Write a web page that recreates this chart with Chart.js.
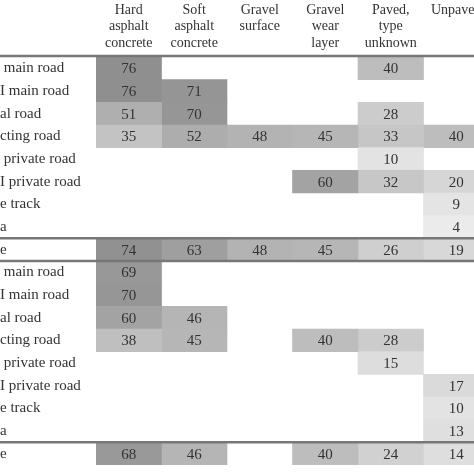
<!DOCTYPE html>
<html><head><meta charset="utf-8">
<script src="https://cdn.jsdelivr.net/npm/chart.js@4"></script>
<style>html,body{margin:0;background:#fff;overflow:hidden}#wrap{width:474px;height:474px}</style>
</head><body><div id="wrap"><canvas id="c"></canvas></div>
<script>
const rowLabels = [' main road','I main road','al road','cting road',' private road','I private road','e track','a','e',
  ' main road','I main road','al road','cting road',' private road','I private road','e track','a','e'];
const columnLabels = [['Hard','asphalt','concrete'],['Soft','asphalt','concrete'],['Gravel','surface'],['Gravel','wear','layer'],['Paved,','type','unknown'],['Unpaved']];
const hardAsphalt = [76,76,51,35,null,null,null,null,74, 69,70,60,38,null,null,null,null,68];
const softAsphalt = [null,71,70,52,null,null,null,null,63, null,null,46,45,null,null,null,null,46];
const gravelSurface = [null,null,null,48,null,null,null,null,48, null,null,null,null,null,null,null,null,null];
const gravelWear = [null,null,null,45,null,60,null,null,45, null,null,null,40,null,null,null,null,40];
const pavedUnknown = [40,null,28,33,10,32,null,null,26, null,null,null,28,15,null,null,null,24];
const unpaved = [null,null,null,40,null,20,9,4,19, null,null,null,null,null,17,10,13,14];
const columns = [hardAsphalt, softAsphalt, gravelSurface, gravelWear, pavedUnknown, unpaved];

const shade = v => { const g = Math.round(240 - 1.28*v); return `rgb(${g},${g},${g})`; };
const SERIF = '"Liberation Serif", "DejaVu Serif", serif';

const datasets = columns.map((vals,c)=>({
  data: vals.map(v => v==null ? null : [c, c+1]),
  values: vals,
  backgroundColor: vals.map(v => v==null ? 'rgba(0,0,0,0)' : shade(v)),
  borderWidth: 0, grouped: false, barPercentage: 1, categoryPercentage: 1
}));

const tablePlugin = {
  id:'table',
  afterDatasetsDraw(chart){
    const {ctx, scales:{x,y}, chartArea} = chart;
    ctx.save();
    ctx.fillStyle = '#333'; ctx.textAlign = 'center'; ctx.textBaseline = 'middle';
    ctx.font = '15px ' + SERIF;
    chart.data.datasets.forEach((ds,c)=>{
      ds.values.forEach((v,r)=>{
        if(v==null) return;
        ctx.fillText(String(v), x.getPixelForValue(c+0.5), y.getPixelForValue(r)+1);
      });
    });
    // headers
    ctx.font = '14px ' + SERIF; ctx.textBaseline = 'top';
    columnLabels.forEach((lines,c)=>{
      lines.forEach((t,i)=> ctx.fillText(t, x.getPixelForValue(c+0.5), 3 + i*16.5));
    });
    // rules
    ctx.strokeStyle = '#777'; ctx.lineWidth = 2.5;
    const line = yy => { ctx.beginPath(); ctx.moveTo(0,yy); ctx.lineTo(chart.width,yy); ctx.stroke(); };
    line(chartArea.top - 1);
    [8,9,17].forEach(r => line((y.getPixelForValue(r-1)+y.getPixelForValue(r))/2));
    ctx.restore();
  }
};

new Chart(document.getElementById('c'), {
  type:'bar',
  data:{ labels: rowLabels, datasets },
  options:{
    indexAxis:'y', responsive:true, maintainAspectRatio:false, animation:false,
    layout:{ padding:{ top:57, left:0, right:0, bottom:0 } },
    plugins:{ legend:{display:false}, tooltip:{enabled:false} },
    scales:{
      x:{ type:'linear', min:0, max:(474-96)/65.5, display:false },
      y:{ grid:{display:false}, border:{display:false},
          afterFit(s){ s.width = 96; },
          ticks:{ crossAlign:'far', padding:0, color:'#333', autoSkip:false, font:{ family: SERIF, size:15 } } }
    }
  },
  plugins:[tablePlugin]
});
</script></body></html>
